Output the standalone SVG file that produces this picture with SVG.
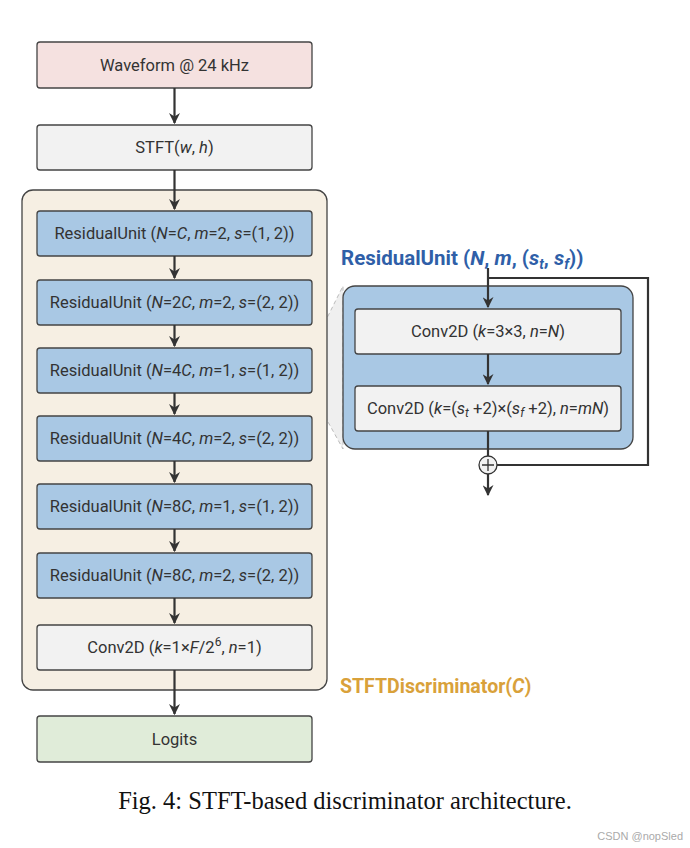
<svg xmlns="http://www.w3.org/2000/svg" width="690" height="848" viewBox="0 0 690 848">
<defs>
<marker id="ah" viewBox="0 0 10 10" refX="9" refY="5" markerWidth="5" markerHeight="5" orient="auto"><path d="M0,0 L10,5 L0,10 L3,5 Z" fill="#333"/></marker>
<style>
.b{stroke:#444;stroke-width:1.3}
.t{font-family:Roboto,"Liberation Sans",sans-serif;font-size:16.5px;fill:#333;text-anchor:middle}
.ru{fill:#a9c8e4}
.c{stroke:#333;stroke-width:2.2;fill:none}
</style>
</defs>
<rect width="690" height="848" fill="#fff"/>
<polygon points="312,348 343,286 343,449 312,393" fill="#efefef" stroke="#bbb" stroke-dasharray="4,3"/>
<g id="container"><rect x="22" y="190" width="305" height="500" rx="11" fill="#f6efe3" class="b"/></g>
<g id="wave"><rect x="37" y="42" width="275" height="46" rx="3" fill="#f5e1e0" class="b"/><text class="t" x="174.5" y="71">Waveform @ 24 kHz</text></g>
<g id="stft"><rect x="37" y="125" width="275" height="45" rx="3" fill="#f2f2f2" class="b"/><text class="t" x="174.5" y="153">STFT(<tspan font-style="italic">w</tspan>, <tspan font-style="italic">h</tspan>)</text></g>
<g id="ru1"><rect x="37" y="211" width="275" height="45" rx="3" class="ru b"/><text class="t" x="174.5" y="239">ResidualUnit (<tspan font-style="italic">N</tspan>=<tspan font-style="italic">C</tspan>, <tspan font-style="italic">m</tspan>=2, <tspan font-style="italic">s</tspan>=(1, 2))</text></g>
<g id="ru2"><rect x="37" y="280" width="275" height="45" rx="3" class="ru b"/><text class="t" x="174.5" y="308">ResidualUnit (<tspan font-style="italic">N</tspan>=2<tspan font-style="italic">C</tspan>, <tspan font-style="italic">m</tspan>=2, <tspan font-style="italic">s</tspan>=(2, 2))</text></g>
<g id="ru3"><rect x="37" y="348" width="275" height="45" rx="3" class="ru b"/><text class="t" x="174.5" y="376">ResidualUnit (<tspan font-style="italic">N</tspan>=4<tspan font-style="italic">C</tspan>, <tspan font-style="italic">m</tspan>=1, <tspan font-style="italic">s</tspan>=(1, 2))</text></g>
<g id="ru4"><rect x="37" y="416" width="275" height="45" rx="3" class="ru b"/><text class="t" x="174.5" y="444">ResidualUnit (<tspan font-style="italic">N</tspan>=4<tspan font-style="italic">C</tspan>, <tspan font-style="italic">m</tspan>=2, <tspan font-style="italic">s</tspan>=(2, 2))</text></g>
<g id="ru5"><rect x="37" y="484" width="275" height="45" rx="3" class="ru b"/><text class="t" x="174.5" y="512">ResidualUnit (<tspan font-style="italic">N</tspan>=8<tspan font-style="italic">C</tspan>, <tspan font-style="italic">m</tspan>=1, <tspan font-style="italic">s</tspan>=(1, 2))</text></g>
<g id="ru6"><rect x="37" y="553" width="275" height="45" rx="3" class="ru b"/><text class="t" x="174.5" y="581">ResidualUnit (<tspan font-style="italic">N</tspan>=8<tspan font-style="italic">C</tspan>, <tspan font-style="italic">m</tspan>=2, <tspan font-style="italic">s</tspan>=(2, 2))</text></g>
<g id="conv"><rect x="37" y="625" width="275" height="45" rx="3" fill="#f2f2f2" class="b"/><text class="t" x="174.5" y="653">Conv2D (<tspan font-style="italic">k</tspan>=1×<tspan font-style="italic">F</tspan>/2<tspan dy="-7" font-size="12">6</tspan><tspan dy="7">, </tspan><tspan font-style="italic">n</tspan>=1)</text></g>
<g id="logits"><rect x="37" y="716" width="275" height="46" rx="3" fill="#e0ecd9" class="b"/><text class="t" x="174.5" y="745">Logits</text></g>
<g id="detail">
<rect x="343" y="286" width="290" height="163" rx="12" fill="#a9c8e4" class="b"/>
<rect x="355" y="309" width="266" height="45" rx="3" fill="#f2f2f2" class="b"/>
<text class="t" x="488" y="337">Conv2D (<tspan font-style="italic">k</tspan>=3×3, <tspan font-style="italic">n</tspan>=<tspan font-style="italic">N</tspan>)</text>
<rect x="355" y="386" width="266" height="45" rx="3" fill="#f2f2f2" class="b"/>
<text class="t" x="488" y="414">Conv2D (<tspan font-style="italic">k</tspan>=(<tspan font-style="italic">s</tspan><tspan font-style="italic" font-size="12" dy="3">t</tspan><tspan dy="-3"> +2)×(</tspan><tspan font-style="italic">s</tspan><tspan font-style="italic" font-size="12" dy="3">f</tspan><tspan dy="-3"> +2), </tspan><tspan font-style="italic">n</tspan>=<tspan font-style="italic">mN</tspan>)</text>
</g>
<g id="connectors">
<line class="c" x1="174.5" y1="88" x2="174.5" y2="123" marker-end="url(#ah)"/>
<line class="c" x1="174.5" y1="170" x2="174.5" y2="209" marker-end="url(#ah)"/>
<line class="c" x1="174.5" y1="256" x2="174.5" y2="278" marker-end="url(#ah)"/>
<line class="c" x1="174.5" y1="325" x2="174.5" y2="346" marker-end="url(#ah)"/>
<line class="c" x1="174.5" y1="393" x2="174.5" y2="414" marker-end="url(#ah)"/>
<line class="c" x1="174.5" y1="461" x2="174.5" y2="482" marker-end="url(#ah)"/>
<line class="c" x1="174.5" y1="529" x2="174.5" y2="551" marker-end="url(#ah)"/>
<line class="c" x1="174.5" y1="598" x2="174.5" y2="623" marker-end="url(#ah)"/>
<line class="c" x1="174.5" y1="670" x2="174.5" y2="714" marker-end="url(#ah)"/>
<line class="c" x1="488" y1="268" x2="488" y2="307" marker-end="url(#ah)"/>
<line class="c" x1="488" y1="354" x2="488" y2="384" marker-end="url(#ah)"/>
<line class="c" x1="488" y1="431" x2="488" y2="456"/>
<polyline class="c" points="488,278 648,278 648,465 497,465"/>
<circle cx="488" cy="465" r="9" fill="#f2f2f2" stroke="#333" stroke-width="1.3"/>
<path d="M482,465 H494 M488,459 V471" stroke="#333" stroke-width="1.3"/>
<line class="c" x1="488" y1="474" x2="488" y2="495" marker-end="url(#ah)"/>
</g>
<text x="341" y="265" font-family="Roboto,'Liberation Sans',sans-serif" font-size="20.5" font-weight="bold" fill="#2f5fa8">ResidualUnit (<tspan font-style="italic">N</tspan>, <tspan font-style="italic">m</tspan>, (<tspan font-style="italic">s</tspan><tspan font-style="italic" font-size="14" dy="4">t</tspan><tspan dy="-4">, </tspan><tspan font-style="italic">s</tspan><tspan font-style="italic" font-size="14" dy="4">f</tspan><tspan dy="-4">))</tspan></text>
<text x="340" y="693" font-family="Roboto,'Liberation Sans',sans-serif" font-size="19.5" font-weight="bold" fill="#d9a13a">STFTDiscriminator(<tspan font-style="italic">C</tspan>)</text>
<text x="345" y="809" font-family="'Liberation Serif',serif" font-size="24.5" fill="#111" text-anchor="middle">Fig. 4: STFT-based discriminator architecture.</text>
<text x="683" y="840" font-family="'Liberation Sans',sans-serif" font-size="11" fill="#aaa" text-anchor="end">CSDN @nopSled</text>
</svg>
